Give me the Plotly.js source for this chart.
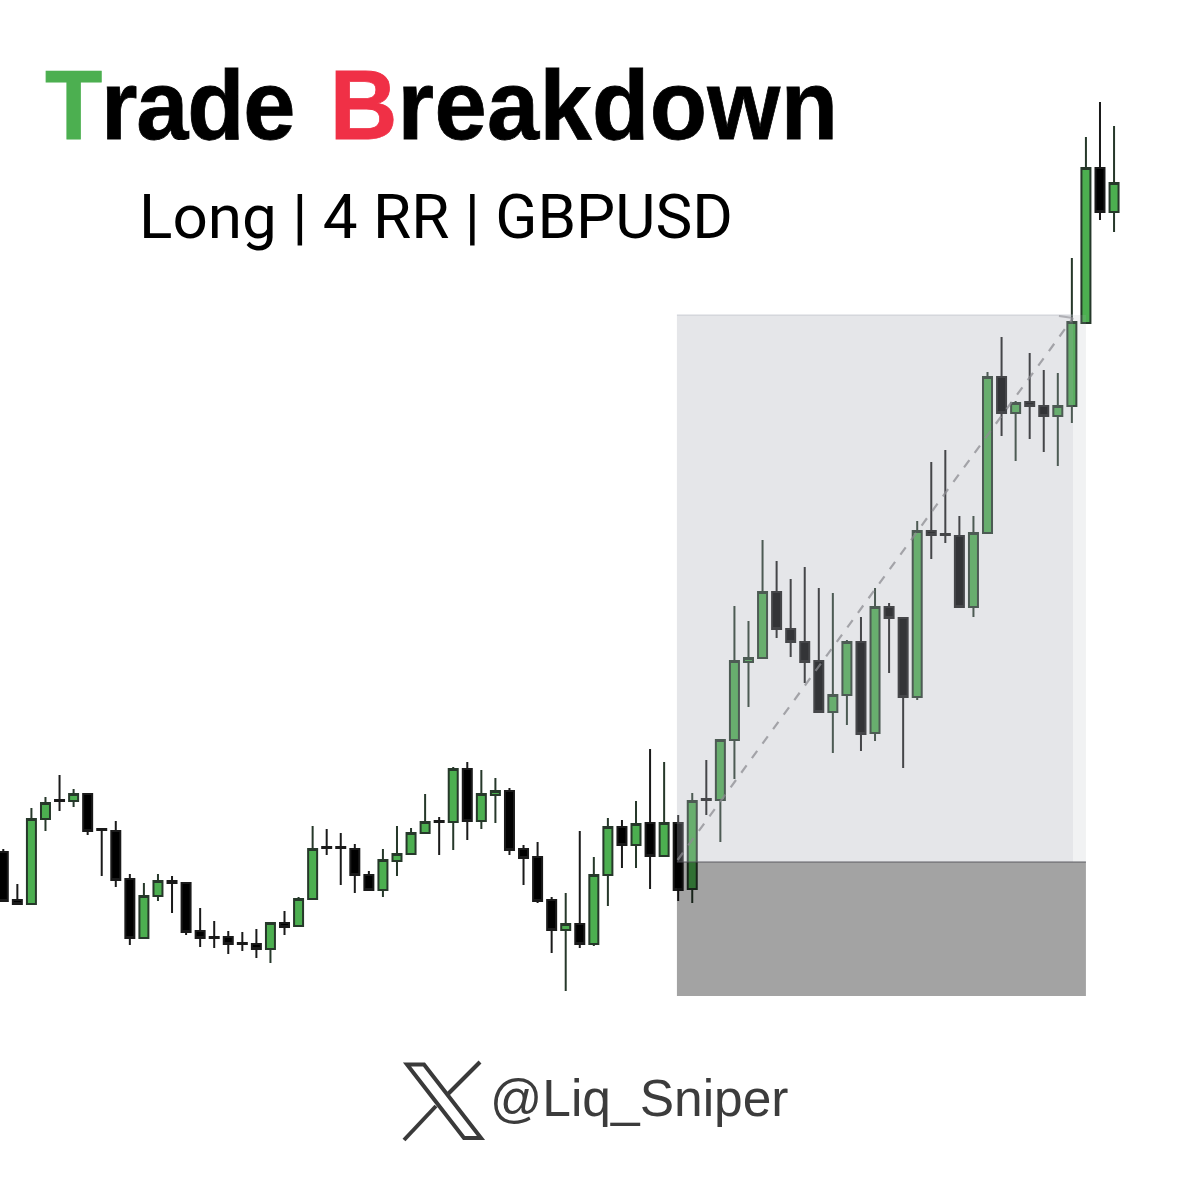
<!DOCTYPE html>
<html><head><meta charset="utf-8">
<script src="https://cdn.plot.ly/plotly-3.0.1.min.js"></script>
<style>html,body{margin:0;padding:0;background:#fff}.gtitle{transform:scaleX(.957);transform-origin:46px 0}</style></head>
<body><div id="chart" style="width:1200px;height:1200px"></div>
<script>
const opens = [348,300,296,381,400,399,406,371,369,321,262,304,319,317,269,263,263,257,256,251,277,274,301,353,353,351,325,310,339,346,367,379,378,431,379,405,409,351,343,300,270,276,256,325,373,355,377,344,377,311,401,400,460,538,542,608,571,558,539,488,505,558,467,593,582,503,669,666,664,593,667,823,787,798,794,784,794,877,1032,988];
const highs = [351,316,392,403,425,411,406,372,379,326,317,326,324,317,292,279,269,268,271,278,289,303,374,371,367,356,329,351,374,372,406,383,433,438,430,422,412,355,358,303,307,369,343,382,380,399,451,438,385,407,440,460,594,579,660,639,621,633,612,607,560,583,612,597,582,679,738,750,684,684,828,863,799,847,830,827,942,1063,1098,1074];
const lows = [299,296,296,369,389,393,365,324,313,255,262,299,287,265,253,252,246,249,242,237,265,274,301,345,315,307,310,303,324,346,367,345,350,360,371,377,345,315,297,247,209,252,254,294,332,332,311,344,299,297,385,358,421,493,542,562,543,517,487,447,475,449,459,527,432,500,641,657,593,583,667,764,739,761,748,734,777,876,980,968];
const closes = [299,296,381,397,399,406,369,370,320,262,304,319,317,268,262,262,256,256,251,277,273,301,351,352,352,325,310,340,346,367,378,378,431,379,406,409,350,342,299,270,276,256,325,373,355,376,344,377,310,399,400,460,539,542,608,571,558,538,488,505,558,466,593,582,503,669,665,665,593,667,823,787,797,794,784,794,878,1032,988,1017];
const candleIndex = opens.map((_, i) => i);

const targetPrice = 885, entryPrice = 338, stopPrice = 204;
const zoneStart = 47.91, fadeStart = 76.08, zoneEnd = 77.0;

const titleText = '<span style="color:#4CAF50;letter-spacing:-1.3px;stroke:#4CAF50;stroke-width:0.8px">T</span><span style="letter-spacing:-1.3px;stroke:#000;stroke-width:0.8px">rade</span><span style="letter-spacing:10px"> </span><span style="color:#F03046;stroke:#F03046;stroke-width:0.8px">B</span><span style="letter-spacing:0.4px;stroke:#000;stroke-width:0.8px">reakdown</span>';
const subtitleText = 'Long | 4 RR | GBPUSD';
const handleText = '@Liq_Sniper';

const px = v => v / 1200, py = v => 1 - v / 1200;
const logoStroke = '#3a3a3a';
const logoPath = pts => pts.map((p, i) => (i ? 'L' : 'M') + px(p[0]) + ',' + py(p[1])).join(' ');

const trace = {
  type: 'candlestick', x: candleIndex, open: opens, high: highs, low: lows, close: closes,
  increasing: {line: {color: '#26382a', width: 2}, fillcolor: '#4CAF50'},
  decreasing: {line: {color: '#1a1a1a', width: 2}, fillcolor: '#000000'},
  whiskerwidth: 0, hoverinfo: 'skip', showlegend: false
};

const layout = {
  width: 1200, height: 1200, margin: {l: 0, r: 0, t: 0, b: 0},
  paper_bgcolor: '#fff', plot_bgcolor: '#fff', showlegend: false,
  boxgap: 0.36, boxgroupgap: 0,
  title: {text: titleText, x: px(45), xanchor: 'left', xref: 'paper', y: py(139.5), yref: 'paper', yanchor: 'bottom',
          font: {family: 'Liberation Sans', size: 98, color: '#000', weight: 700}, pad: {l: 0, r: 0, t: 0, b: 0}},
  xaxis: {visible: false, range: [-0.235, 85.113], fixedrange: true, rangeslider: {visible: false}},
  yaxis: {visible: false, range: [0, 1200], fixedrange: true},
  annotations: [
    {text: subtitleText, xref: 'paper', yref: 'paper', x: px(137), y: py(216.5), xanchor: 'left', yanchor: 'middle', showarrow: false,
     font: {family: 'Roboto', size: 62, color: '#000'}},
    {text: handleText, xref: 'paper', yref: 'paper', x: px(487.5), y: py(1098), xanchor: 'left', yanchor: 'middle', showarrow: false,
     font: {family: 'Liberation Sans', size: 51.5, color: '#3c3c3c'}}
  ],
  shapes: [
    {type: 'rect', layer: 'above', x0: zoneStart, x1: fadeStart, y0: entryPrice, y1: targetPrice, line: {width: 0}, fillcolor: 'rgba(170,172,182,0.3)'},
    {type: 'rect', layer: 'above', x0: fadeStart, x1: zoneEnd, y0: entryPrice, y1: targetPrice, line: {width: 0}, fillcolor: 'rgba(170,172,182,0.16)'},
    {type: 'rect', layer: 'above', x0: zoneStart, x1: zoneEnd, y0: stopPrice, y1: entryPrice, line: {width: 0}, fillcolor: 'rgba(0,0,0,0.36)'},
    {type: 'line', layer: 'above', x0: zoneStart, x1: zoneEnd, y0: entryPrice, y1: entryPrice, line: {color: 'rgba(80,80,88,0.6)', width: 1.5}},
    {type: 'line', layer: 'above', x0: zoneStart, x1: fadeStart, y0: targetPrice, y1: targetPrice, line: {color: 'rgba(170,172,182,0.35)', width: 1.5}},
    {type: 'line', layer: 'above', x0: zoneStart + 0.05, x1: fadeStart, y0: entryPrice + 2, y1: targetPrice - 3, line: {color: 'rgba(140,140,146,0.75)', width: 2.2, dash: '9px,9px'}},
    {type: 'line', layer: 'above', x0: fadeStart - 1, x1: fadeStart, y0: targetPrice - 1, y1: targetPrice - 3, line: {color: 'rgba(140,140,146,0.6)', width: 2}},
    {type: 'path', layer: 'above', xref: 'paper', yref: 'paper', path: logoPath([[407, 1064.5], [424, 1064.5], [481, 1138], [464, 1138]]) + ' Z', line: {color: logoStroke, width: 4}},
    {type: 'path', layer: 'above', xref: 'paper', yref: 'paper', path: logoPath([[480, 1062], [447, 1095]]), line: {color: logoStroke, width: 4}},
    {type: 'path', layer: 'above', xref: 'paper', yref: 'paper', path: logoPath([[436, 1106], [404, 1140]]), line: {color: logoStroke, width: 4}}
  ]
};
Plotly.newPlot('chart', [trace], layout, {staticPlot: true, displayModeBar: false});
</script>
</body></html>
